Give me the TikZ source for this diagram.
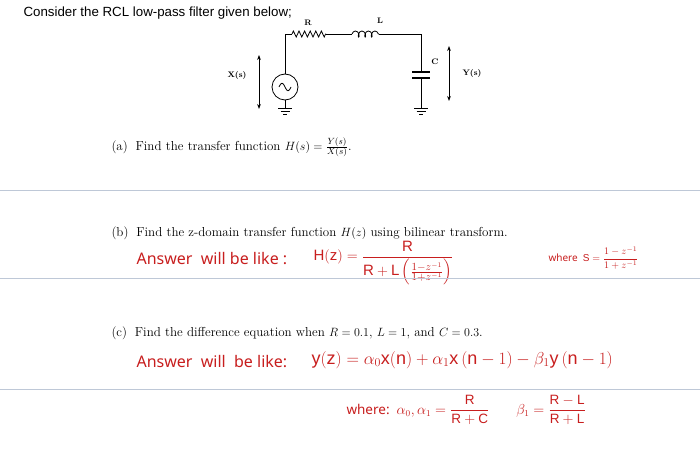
\documentclass[tikz,border=0pt]{standalone}
\usepackage{amsmath}
\usepackage{fontspec}
\setsansfont{Liberation Sans}
\newfontfamily\hand{Noto Sans}
\usetikzlibrary{decorations.pathmorphing,arrows.meta}
\definecolor{ink}{RGB}{200,30,30}
\definecolor{sep}{RGB}{190,200,215}
\begin{document}
\begin{tikzpicture}[x=1pt,y=-1pt,
  wire/.style={line width=0.8pt},
  lab/.style={font=\bfseries\fontsize{8}{9}\selectfont},
  prob/.style={anchor=west,font=\fontsize{13}{14}\selectfont},
  ans/.style={anchor=west,text=ink,font=\hand\fontsize{16}{18}\selectfont},
  dbl/.style={{Stealth[length=5pt]}-{Stealth[length=5pt]},line width=0.9pt}]
\useasboundingbox (0,0) rectangle (700,465);
\fill[white] (0,0) rectangle (700,465);
\node[anchor=west,font=\sffamily\fontsize{13.3}{15}\selectfont] (title) at (20,13) {Consider the RCL low-pass filter given below;};
% circuit
\coordinate (tl) at (285,34);
\coordinate (r1) at (292,34); \coordinate (r2) at (326,34);
\coordinate (l1) at (352,34); \coordinate (l2) at (379,34);
\coordinate (tr) at (421,34);
\node[circle,draw,line width=0.8pt,minimum size=26pt,inner sep=0] (src) at (285,87) {};
\draw[line width=0.8pt] (279,87) .. controls (281,82) and (283,82) .. (285,87) .. controls (287,92) and (289,92) .. (291,87);
\draw[wire] (src.north) -- (tl) -- (r1);
\draw[wire,decorate,decoration={zigzag,segment length=5.6pt,amplitude=3pt}] (r1) -- (r2);
\draw[wire] (r2) -- (l1);
\draw[wire,decorate,decoration={coil,aspect=0.6,segment length=6.5pt,amplitude=3pt}] (l1) -- (l2);
\draw[wire] (l2) -- (tr) -- (421,72);
\draw[line width=1.2pt] (412,72) -- (430,72) (412,78) -- (430,78);
\draw[wire] (421,78) -- (421,108);
\draw[wire] (src.south) -- (285,108);
\foreach \x in {285,421}{
  \draw[line width=0.8pt] (\x-7,108)--(\x+7,108) (\x-4.5,111)--(\x+4.5,111) (\x-2,114)--(\x+2,114);}
\node[lab] (R) at (308,23) {R};
\node[lab] (L) at (380,21) {L};
\node[lab] (C) at (435,62) {C};
\node[lab] (X) at (237,76) {X(s)};
\node[lab] (Y) at (472,74) {Y(s)};
\draw[dbl] (259,55) -- (259,109);
\draw[dbl] (449,46) -- (449,101);
% problems
\node[prob] (pa) at (108,147) {(a)\; Find the transfer function $H(s)=\frac{Y(s)}{X(s)}$.};
\draw[sep,line width=0.8pt] (0,190) -- (700,190);
\node[prob] (pb) at (108,233) {(b)\; Find the z-domain transfer function $H(z)$ using bilinear transform.};
\node[ans] (a1) at (133,259) {Answer\ \ will be like :};
\node[ans,font=\hand\fontsize{15}{17}\selectfont] (a2) at (310,263) {$\mathsf{H(z)}=\dfrac{\mathsf R}{\mathsf{R}+\mathsf{L}\left(\frac{1-z^{-1}}{1+z^{-1}}\right)}$};
\node[ans,font=\hand\fontsize{10}{12}\selectfont] (a3) at (545,258) {where\ \ $\mathsf S=\dfrac{1-z^{-1}}{1+z^{-1}}$};
\draw[sep,line width=0.8pt] (0,278) -- (700,278);
\node[prob] (pc) at (108,333) {(c)\; Find the difference equation when $R=0.1$, $L=1$, and $C=0.3$.};
\node[ans] (c1) at (133,362) {Answer\ \ will\ \ be like:};
\node[ans,font=\hand\fontsize{18}{20}\selectfont] (c2) at (308,360) {$\mathsf{y(z)}=\alpha_0\mathsf{x(n)}+\alpha_1\mathsf{x}\,(\mathsf{n}-1)-\beta_1\mathsf{y}\,(\mathsf{n}-1)$};
\draw[sep,line width=0.8pt] (0,389) -- (700,389);
\node[ans,font=\hand\fontsize{13.5}{15}\selectfont] (c3) at (343,410) {where:\ \ $\alpha_0,\alpha_1=\dfrac{\mathsf R}{\mathsf{R+C}}$\qquad $\beta_1=\dfrac{\mathsf{R-L}}{\mathsf{R+L}}$};
\end{tikzpicture}
\end{document}
